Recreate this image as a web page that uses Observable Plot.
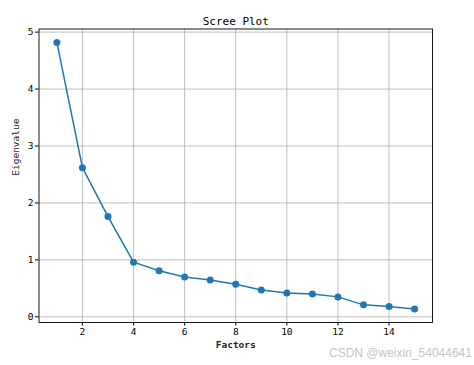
<!DOCTYPE html>
<html>
<head>
<meta charset="utf-8">
<script src="https://cdn.jsdelivr.net/npm/d3@7"></script>
<script src="https://cdn.jsdelivr.net/npm/@observablehq/plot@0.6"></script>
<style>
  html, body { margin: 0; padding: 0; background: #fff; }
  #wrap { position: relative; width: 474px; height: 365px; overflow: hidden; }
  #wm { position: absolute; left: 329px; top: 346px; font: 12px "Liberation Sans", Arial, sans-serif; color: #c4c4c4; white-space: nowrap; }
</style>
</head>
<body>
<div id="wrap"><span id="wm">CSDN @weixin_54044641</span></div>
<script>
const factors = [1, 2, 3, 4, 5, 6, 7, 8, 9, 10, 11, 12, 13, 14, 15];
const eigenvalues = [4.82, 2.62, 1.76, 0.96, 0.81, 0.70, 0.645, 0.57, 0.47, 0.42, 0.40, 0.35, 0.21, 0.18, 0.135];
const xTicks = [2, 4, 6, 8, 10, 12, 14];
const yTicks = [0, 1, 2, 3, 4, 5];
const title = "Scree Plot";
const xLabel = "Factors";
const yLabel = "Eigenvalue";

const data = factors.map((f, i) => ({f, v: eigenvalues[i]}));
const font = "'DejaVu Sans Mono', monospace";
const blue = "#1f77b4";

const chart = Plot.plot({
  width: 474,
  height: 365,
  marginLeft: 38.5,
  marginRight: 42,
  marginTop: 28.5,
  marginBottom: 43,
  style: {fontFamily: font, fontSize: "9.5px", color: "#000", background: "#fff"},
  x: {domain: [0.3, 15.7], label: null},
  y: {domain: [-0.1, 5.055], label: null},
  marks: [
    Plot.gridX(xTicks, {stroke: "#b0b0b0", strokeOpacity: 1, strokeWidth: 0.8}),
    Plot.gridY(yTicks, {stroke: "#b0b0b0", strokeOpacity: 1, strokeWidth: 0.8}),
    Plot.axisX(xTicks, {tickSize: 3.5, tickPadding: 2, tickFormat: "d", fontSize: 9.5, fontFamily: font, label: null}),
    Plot.axisY(yTicks, {tickSize: 3.5, tickPadding: 2, tickFormat: "d", fontSize: 9.5, fontFamily: font, label: null}),
    Plot.line(data, {x: "f", y: "v", stroke: blue, strokeWidth: 1.5}),
    Plot.dot(data, {x: "f", y: "v", r: 3.5, fill: blue, stroke: "none"}),
    Plot.frame({stroke: "#000", strokeWidth: 0.9}),
    Plot.text([title], {frameAnchor: "top", dy: -12, fontSize: 11, fontFamily: font, fill: "#000"}),
    Plot.text([xLabel], {frameAnchor: "bottom", dy: 25, fontSize: 9.5, fontFamily: font, fontWeight: "bold", fill: "#222"}),
    Plot.text([yLabel], {frameAnchor: "left", dx: -23, rotate: -90, fontSize: 9.5, fontFamily: font, fill: "#222"})
  ]
});
document.getElementById("wrap").prepend(chart);
</script>
</body>
</html>
